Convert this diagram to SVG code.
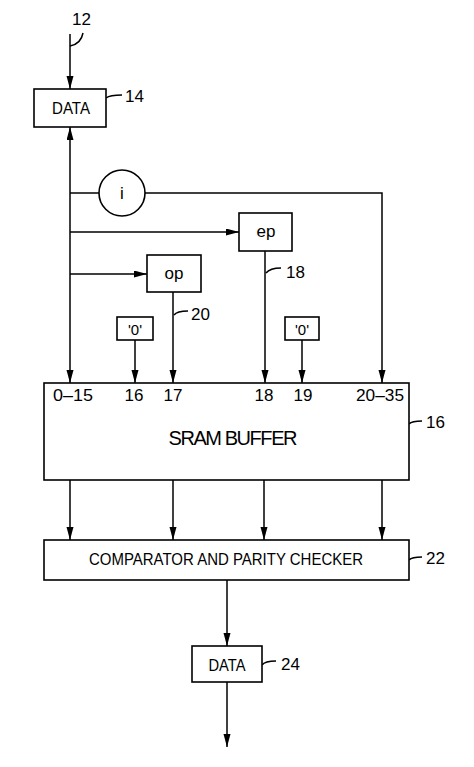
<svg xmlns="http://www.w3.org/2000/svg" width="474" height="767" viewBox="0 0 474 767">
<defs>
<marker id="ah" markerUnits="userSpaceOnUse" markerWidth="14" markerHeight="8" refX="13" refY="3.5" orient="auto-start-reverse">
<path d="M0,0 L13,3.5 L0,7 z" fill="#000"/>
</marker>
<style>
.box{fill:#fff;stroke:#000;stroke-width:1.6}
.ln{fill:none;stroke:#000;stroke-width:1.5}
.ar{fill:none;stroke:#000;stroke-width:1.5;marker-end:url(#ah)}
.t{font-family:"Liberation Sans",Arial,sans-serif;font-size:17px;fill:#000}
.c{text-anchor:middle}
</style>
</defs>
<rect width="474" height="767" fill="#fff"/>
<g id="connectors">
<line class="ar" x1="70" y1="34" x2="70" y2="89"/>
<line class="ln" x1="70" y1="127" x2="70" y2="383" style="marker-start:url(#ah);marker-end:url(#ah)"/>
<line class="ln" x1="70" y1="193" x2="99.5" y2="193"/>
<polyline class="ar" points="145,193 382,193 382,383"/>
<line class="ar" x1="70" y1="232" x2="239" y2="232"/>
<line class="ar" x1="70" y1="274" x2="147" y2="274"/>
<line class="ar" x1="265" y1="251" x2="265" y2="383"/>
<line class="ar" x1="173" y1="292" x2="173" y2="383"/>
<line class="ar" x1="135" y1="340" x2="135" y2="383"/>
<line class="ar" x1="302" y1="340" x2="302" y2="383"/>
<line class="ar" x1="70" y1="480" x2="70" y2="540"/>
<line class="ar" x1="173" y1="480" x2="173" y2="540"/>
<line class="ar" x1="264" y1="480" x2="264" y2="540"/>
<line class="ar" x1="382" y1="480" x2="382" y2="540"/>
<line class="ar" x1="227" y1="580" x2="227" y2="646"/>
<line class="ar" x1="227" y1="682" x2="227" y2="747"/>
<path class="ln" d="M70,46 Q81,44 83,33"/>
<path class="ln" d="M106,98 Q110,95 122,95"/>
<path class="ln" d="M266,273 Q270,268 281,268"/>
<path class="ln" d="M174,315 Q177,311 188,311"/>
<path class="ln" d="M409,424 Q412,421 422,421"/>
<path class="ln" d="M409,560 Q412,557 422,557"/>
<path class="ln" d="M262,665 Q265,661 276,661"/>
</g>
<g id="label-12"><text class="t" x="72" y="25">12</text></g>
<g id="data-in">
<rect class="box" x="34" y="89" width="72" height="38"/>
<text class="t c" x="71" y="114" textLength="38" lengthAdjust="spacingAndGlyphs">DATA</text>
<text class="t" x="125" y="102">14</text>
</g>
<g id="i-node">
<circle class="box" cx="122" cy="193" r="23"/>
<text class="t c" x="122" y="199">i</text>
</g>
<g id="ep-node">
<rect class="box" x="239" y="213" width="53" height="38"/>
<text class="t c" x="266" y="237">ep</text>
<text class="t" x="286" y="278">18</text>
</g>
<g id="op-node">
<rect class="box" x="147" y="255" width="54" height="37"/>
<text class="t c" x="174" y="279">op</text>
<text class="t" x="191" y="320">20</text>
</g>
<g id="zero1">
<rect class="box" x="117" y="317" width="36" height="23"/>
<text class="t c" x="135" y="335" style="font-size:15px">'0'</text>
</g>
<g id="zero2">
<rect class="box" x="285" y="317" width="34" height="23"/>
<text class="t c" x="302" y="335" style="font-size:15px">'0'</text>
</g>
<g id="sram">
<rect class="box" x="44" y="383" width="365" height="97"/>
<text class="t c" x="73" y="401" textLength="40" lengthAdjust="spacingAndGlyphs">0–15</text>
<text class="t c" x="134" y="401">16</text>
<text class="t c" x="173" y="401">17</text>
<text class="t c" x="264" y="401">18</text>
<text class="t c" x="303" y="401">19</text>
<text class="t c" x="380" y="401" textLength="48" lengthAdjust="spacingAndGlyphs">20–35</text>
<text class="t c" x="233" y="445" style="font-size:20px" textLength="129" lengthAdjust="spacing">SRAM BUFFER</text>
<text class="t" x="426" y="428">16</text>
</g>
<g id="comparator">
<rect class="box" x="44" y="540" width="365" height="40"/>
<text class="t c" x="226" y="565" textLength="274" lengthAdjust="spacingAndGlyphs">COMPARATOR AND PARITY CHECKER</text>
<text class="t" x="426" y="564">22</text>
</g>
<g id="data-out">
<rect class="box" x="192" y="646" width="70" height="36"/>
<text class="t c" x="227" y="671" textLength="37" lengthAdjust="spacingAndGlyphs">DATA</text>
<text class="t" x="281" y="670">24</text>
</g>
</svg>
